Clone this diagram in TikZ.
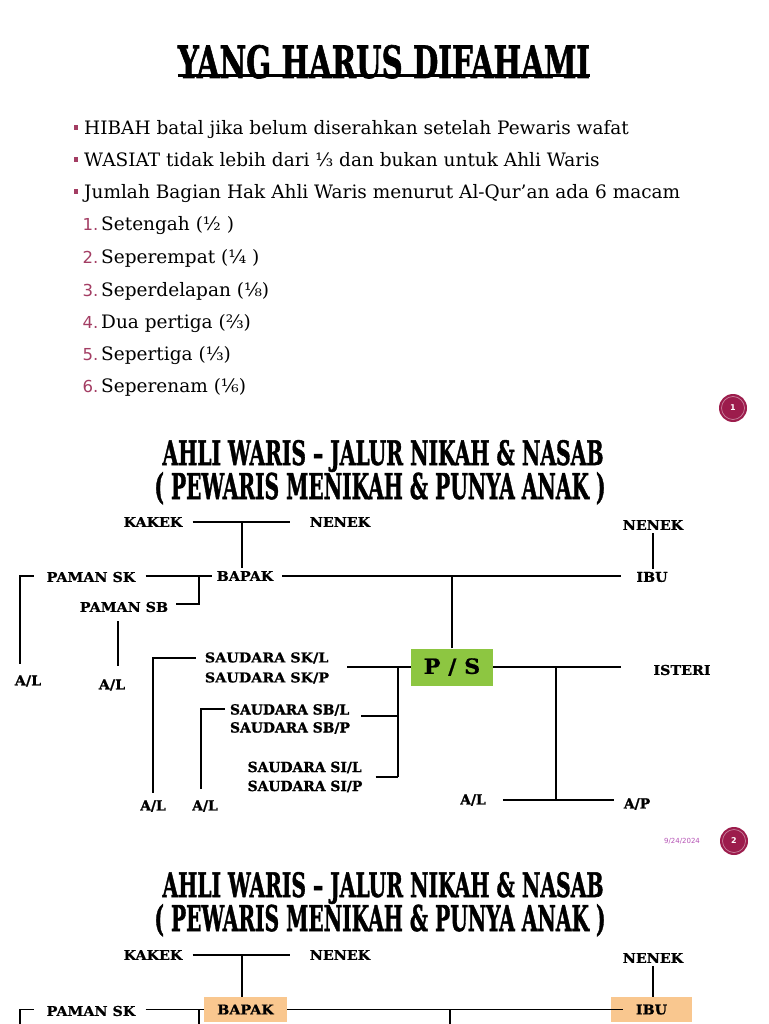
\documentclass[tikz,border=0pt]{standalone}
\usepackage{fontspec}
\usepackage{graphicx}
\setmainfont{DejaVu Serif}
\newfontfamily\titlefont{DejaVu Serif Condensed}[BoldFont={* Bold}, BoldFeatures={FakeBold=1.5}]
\newfontfamily\narrowfont{DejaVu Serif Condensed}[FakeStretch=1.1, BoldFont={* Bold}, BoldFeatures={FakeBold=1.2}]
\newfontfamily\lblfont{DejaVu Serif}[FakeStretch=1.06, BoldFeatures={FakeBold=0.8}]
\newfontfamily\numfont{DejaVu Sans}
\usetikzlibrary{positioning,calc}
\definecolor{pagecrimson}{HTML}{9C1C4C}
\definecolor{bulletred}{HTML}{A33D63}
\definecolor{datepink}{HTML}{B552B5}
\definecolor{psgreen}{HTML}{8DC641}
\definecolor{parentorange}{HTML}{F9C78F}
\tikzset{
  body/.style={anchor=base west, inner sep=0pt, font=\fontsize{18.5}{22}\selectfont},
  num/.style={anchor=base east, inner sep=0pt, text=bulletred,
    font=\numfont\fontsize{16.5}{20}\selectfont},
  sq/.style={fill=bulletred, minimum width=4pt, minimum height=5pt, inner sep=0pt},
  lbl/.style={inner sep=3pt, align=left, font=\lblfont\bfseries\fontsize{13.5}{20}\selectfont},
  lblc/.style={inner sep=3pt, align=left, font=\narrowfont\bfseries\fontsize{14}{19}\selectfont},
  tie/.style={line width=1.8pt, black},
  pgnum/.style={circle, fill=pagecrimson, minimum size=28pt, inner sep=0pt,
    text=white, font=\numfont\bfseries\fontsize{8}{8}\selectfont,
    path picture={\draw[white!45!pagecrimson, line width=0.7pt]
      (path picture bounding box.center) circle (11.5pt);}},
  parent/.style={fill=parentorange, minimum width=83pt, minimum height=25pt,
    inner sep=0pt, font=\lblfont\bfseries\fontsize{13.5}{16}\selectfont},
}
\newcommand{\slidetitle}[2]{%
  \node[anchor=base, inner sep=0pt] (#1a) at (383,#2) {\resizebox{441pt}{25pt}{\titlefont\bfseries AHLI WARIS – JALUR NIKAH \& NASAB}};
  \node[anchor=base, inner sep=0pt] (#1b) at (380,#2+34) {\resizebox{451pt}{27pt}{\titlefont\bfseries ( PEWARIS MENIKAH \& PUNYA ANAK )}};
}
\begin{document}
\begin{tikzpicture}[x=1pt,y=-1pt]
  \useasboundingbox (0,0) rectangle (768,1024);
  \clip (0,0) rectangle (768,1024);
  \fill[white] (0,0) rectangle (768,1024);

  % first slide: what must be understood
  \node[anchor=base, inner sep=0pt] (title) at (384,78)
    {\resizebox{412pt}{33pt}{\titlefont\bfseries YANG HARUS DIFAHAMI}};
  \draw[line width=3pt] (title.south west) ++(0,-3) coordinate (ul) -- (ul -| title.south east);
  \foreach \n/\y/\t in {1/135/{HIBAH batal jika belum diserahkan setelah Pewaris wafat},
      2/167/{WASIAT tidak lebih dari ⅓ dan bukan untuk Ahli Waris},
      3/199/{Jumlah Bagian Hak Ahli Waris menurut Al-Qur’an ada 6 macam}} {
    \node[sq] (sq\n) at (76,\y-7) {};
    \node[body] (b\n) at (84,\y) {\t};
  }
  \foreach \n/\y/\t in {1/231/{Setengah (½ )}, 2/263/{Seperempat (¼ )},
      3/296/{Seperdelapan (⅛)}, 4/328/{Dua pertiga (⅔)},
      5/360/{Sepertiga (⅓)}, 6/392/{Seperenam (⅙)}} {
    \node[num] (n\n) at (98.5,\y) {\n.};
    \node[body] (i\n) at (101,\y) {\t};
  }
  \node[pgnum] (pg1) at (733,408) {1};

  % second slide: heirs, married with children
  \slidetitle{ttl}{465}
  \node[lbl] (k1) at (153,522) {KAKEK};
  \node[lbl] (nk1) at (340,522) {NENEK};
  \node[lbl] (nr1) at (653,525) {NENEK};
  \node[lbl] (bp1) at (245,576) {BAPAK};
  \node[lbl] (ib1) at (652,577) {IBU};
  \node[lbl] (psk1) at (91,577) {PAMAN SK};
  \node[lbl] (psb1) at (124,607) {PAMAN SB};
  \node[lbl] (alA) at (28,681) {A/L};
  \node[lbl] (alB) at (112,685) {A/L};
  \node[lbl] (ssk) at (267,668) {SAUDARA SK/L\\SAUDARA SK/P};
  \node[lblc] (ssb) at (290,719) {SAUDARA SB/L\\[-1pt]SAUDARA SB/P};
  \node[lblc] (ssi) at (305,777) {SAUDARA SI/L\\SAUDARA SI/P};
  \node[lblc] (alC) at (153,806) {A/L};
  \node[lblc] (alD) at (205,806) {A/L};
  \node[fill=psgreen, minimum width=82pt, minimum height=37pt, inner sep=0pt,
        font=\lblfont\bfseries\fontsize{21}{21}\selectfont] (ps) at (452,667) {P / S};
  \node[lbl] (ist) at (682,670) {ISTERI};
  \node[lblc] (alE) at (473,800) {A/L};
  \node[lblc] (apF) at (637,804) {A/P};

  \draw[tie] ([xshift=7pt]k1.east) -- ([xshift=-17pt]k1.east -| nk1.west);
  \draw[tie] ([xshift=-3pt]bp1.north) -- ([xshift=-3pt]bp1.north |- k1);
  \draw[tie] (nr1.south) -- (nr1.south |- ib1.north);
  \draw[tie] ([xshift=6pt]bp1.east) -- ([xshift=-12pt]bp1.east -| ib1.west);
  \draw[tie] (ps.north) -- (ps.north |- bp1.east);
  \coordinate (pj1) at (199,576);
  \draw[tie] ([xshift=7pt]psk1.east |- bp1.west) -- ([xshift=-2pt]bp1.west);
  \draw[tie] ([xshift=5pt,yshift=3pt]psb1.east) -| (pj1);
  \draw[tie] ([xshift=-10pt]psk1.west |- bp1.west) -| ([xshift=-8pt,yshift=8pt]alA.north);
  \draw[tie] ([xshift=-6pt,yshift=-6pt]psb1.south) -- ([xshift=6pt,yshift=10pt]alB.north);
  \draw[tie] ([xshift=-6pt,yshift=10pt]ssk.west) -| ([yshift=4pt]alC.north);
  \draw[tie] ([xshift=15pt]ssk.east |- ps.west) -- (ps.west);
  \coordinate (bus) at (398,667);
  \draw[tie] (bus) -- (bus |- ssi.east);
  \draw[tie] ([xshift=8pt,yshift=3pt]ssb.east) -- ([yshift=3pt]ssb.east -| bus);
  \draw[tie] ([xshift=10pt]ssi.east) -- (ssi.east -| bus);
  \draw[tie] ([xshift=-2pt,yshift=10pt]ssb.west) -| ([xshift=-4pt,yshift=8pt]alD.north);
  \draw[tie] (ps.east) -- ([xshift=-29pt]ps.east -| ist.west) coordinate[pos=0.49] (kids);
  \draw[tie] (kids) -- (kids |- alE);
  \draw[tie] ([xshift=14pt]alE.east) -- ([xshift=-7pt]alE.east -| apF.west);
  \node[text=datepink, inner sep=0pt, font=\numfont\fontsize{7}{7}\selectfont] (date) at (682,841) {9/24/2024};
  \node[pgnum] (pg2) at (734,841) {2};

  % third slide: same tree, parents marked (cut at the page edge)
  \slidetitle{ttlb}{897}
  \node[lbl] (k3) at (153,955) {KAKEK};
  \node[lbl] (nk3) at (340,955) {NENEK};
  \node[lbl] (nr3) at (653,958) {NENEK};
  \node[parent] (bp3) at (245.5,1009.5) {BAPAK};
  \node[parent, minimum width=81pt] (ib3) at (651.5,1009.5) {IBU};
  \node[lbl] (psk3) at (91,1011) {PAMAN SK};
  \draw[tie] ([xshift=7pt]k3.east) -- ([xshift=-17pt]k3.east -| nk3.west);
  \draw[tie] ([xshift=-3.5pt]bp3.north) -- ([xshift=-3.5pt]bp3.north |- k3);
  \draw[tie] (nr3.south) -- (nr3.south |- ib3.north);
  \draw[tie] (bp3.east) -- ([xshift=12pt]ib3.west);
  \draw[tie] ([xshift=7pt]psk3.east |- bp3.west) -- (bp3.west);
  \coordinate (cut1) at (199,1040);
  \coordinate (cut2) at (20,1040);
  \coordinate (cut3) at (450,1040);
  \draw[tie] (cut1 |- bp3.west) -- (cut1);
  \draw[tie] ([xshift=-10pt]psk3.west |- bp3.west) -| (cut2);
  \draw[tie] (cut3 |- bp3.east) -- (cut3);
\end{tikzpicture}
\end{document}
